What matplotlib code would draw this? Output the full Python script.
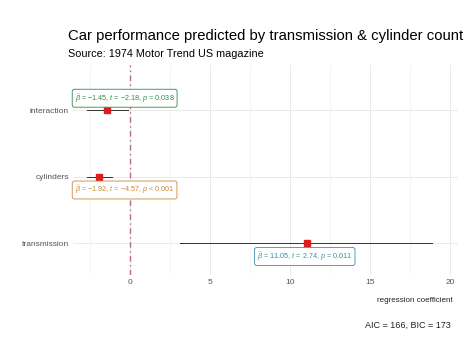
import matplotlib
matplotlib.use("Agg")
import matplotlib.pyplot as plt
from matplotlib.ticker import MultipleLocator

plt.rcParams["font.family"] = ["Liberation Sans", "DejaVu Sans"]
plt.rcParams["mathtext.fontset"] = "custom"
plt.rcParams["mathtext.rm"] = "Liberation Sans"
plt.rcParams["mathtext.it"] = "Liberation Sans:italic"

# ── Data ──────────────────────────────────────────────────────────────────────
terms     = ["transmission", "cylinders", "interaction"]
estimates = [11.05, -1.92, -1.45]
ci_low    = [3.1, -2.7, -2.7]
ci_high   = [18.9, -1.1, -0.15]
t_vals    = ["2.74", "\u22124.57", "\u22122.18"]
p_texts   = ["= 0.011", "< 0.001", "= 0.038"]
colors    = ["#3b8ea5", "#c8873c", "#2e8b4a"]
xticks    = [0, 5, 10, 15, 20]

# ── Figure ────────────────────────────────────────────────────────────────────
fig = plt.figure(figsize=(4.74, 3.55), dpi=100)
ax = fig.add_axes([0.154, 0.225, 0.812, 0.592])

ypos = list(range(1, len(terms) + 1))
ax.set_xlim(-3.56, 20.5)
ax.set_ylim(0.52, 3.68)

ax.xaxis.set_major_locator(MultipleLocator(5))
ax.xaxis.set_minor_locator(MultipleLocator(2.5))
ax.grid(True, which="major", color="#e6e6e6", lw=0.6)
ax.grid(True, which="minor", axis="x", color="#f1f1f1", lw=0.5)
ax.set_axisbelow(True)
for s in ax.spines.values():
    s.set_visible(False)
ax.tick_params(which="both", length=0, labelsize=6, colors="#555555", pad=3)
ax.set_xticks(xticks)
ax.set_yticks(ypos)
ax.set_yticklabels(terms)

ax.axvline(0, color="#b86a88", lw=1.0, ls=(0, (4, 2.5, 1, 2.5)), zorder=1)

for y, est, lo, hi, t, p, c in zip(ypos, estimates, ci_low, ci_high, t_vals, p_texts, colors):
    ax.plot([lo, hi], [y, y], color="#333333", lw=0.7, zorder=2)
    ax.plot(est, y, marker="s", ms=5, color="#dd1c1c", zorder=3)
    sign = "\u2212" if est < 0 else ""
    label = (r"$\widehat{\beta}$ = " + f"{sign}{abs(est):.2f}, " +
             r"$\it{t}$ = " + f"{t}, " + r"$\it{p}$ " + p)
    if y == 3:
        lx, ly = -3.45, y + 0.18
    elif y == 2:
        lx, ly = -3.45, y - 0.2
    else:
        lx, ly = 7.95, y - 0.2
    ax.text(lx, ly, label, fontsize=5.2, color=c, va="center", ha="left", zorder=4,
            bbox=dict(boxstyle="round,pad=0.35,rounding_size=0.3", fc="white",
                      ec=c, lw=0.6))

fig.text(0.143, 0.878, "Car performance predicted by transmission & cylinder count",
         fontsize=10.7, color="black", ha="left", va="bottom")
fig.text(0.143, 0.835, "Source: 1974 Motor Trend US magazine",
         fontsize=7.8, color="black", ha="left", va="bottom")
fig.text(0.955, 0.153, "regression coefficient", fontsize=5.8, color="#222222",
         ha="right", va="center")
fig.text(0.952, 0.083, "AIC = 166, BIC = 173", fontsize=6.5, color="#222222",
         ha="right", va="center")

fig.savefig("out.png", dpi=100)
